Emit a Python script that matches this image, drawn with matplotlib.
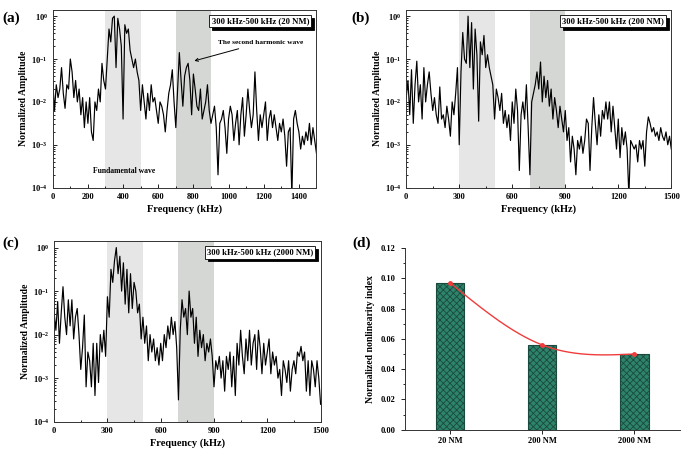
import numpy as np
import matplotlib
matplotlib.use("Agg")
import matplotlib.pyplot as plt
from matplotlib.lines import Line2D

plt.rcParams['font.family'] = ['Liberation Serif', 'DejaVu Serif']
plt.rcParams['font.weight'] = 'bold'
plt.rcParams['axes.labelweight'] = 'bold'
plt.rcParams['hatch.linewidth'] = 0.6

# frecuencias (kHz), paso de 10 kHz
freq = np.arange(0, 1501, 10)

# log10 de la amplitud normalizada
amp_20 = [
    -1.5, -2.2, -1.6, -1.9, -1.7, -1.2, -1.8, -2.15, -1.6, -1.7,
    -1.0, -1.3, -1.9, -1.5, -2.0, -1.7, -2.3, -1.9, -2.6, -2.0,
    -2.5, -1.9, -2.7, -2.9, -2.0, -2.2, -1.7, -2.0, -1.1, -1.5,
    -1.7, -1.0, -0.3, -0.6, -0.05, 0.0, -1.2, -0.05, -0.3, -0.7,
    -2.4, -0.2, -0.4, -0.3, -0.8, -1.0, -1.2, -1.0, -1.3, -1.5,
    -2.2, -1.6, -2.0, -2.4, -1.8, -2.2, -1.6, -2.0, -1.9, -2.2,
    -2.5, -2.0, -2.1, -2.3, -2.7, -2.2, -1.8, -1.6, -1.25, -2.0,
    -2.6, -1.7, -0.85, -1.5, -2.1, -1.4, -1.2, -1.1, -1.5, -2.3,
    -1.35, -1.7, -2.1, -2.2, -1.7, -2.4, -2.2, -2.0, -1.6, -2.2,
    -2.5, -2.3, -2.1, -2.6, -3.7, -2.5, -2.4, -2.2, -2.6, -3.2,
    -2.4, -2.1, -2.3, -2.9, -2.5, -2.2, -3.0, -2.3, -1.9, -2.8,
    -2.3, -1.7, -2.2, -2.6, -2.3, -1.3, -2.2, -2.9, -2.3, -2.6,
    -2.3, -2.0, -2.9, -2.4, -2.2, -2.6, -2.3, -2.6, -2.9, -2.5,
    -2.7, -2.4, -2.8, -3.5, -2.7, -2.6, -4.2, -2.4, -2.2, -2.5,
    -2.7, -3.1, -2.8, -3.0, -2.7, -2.9, -2.5, -3.0, -2.6, -2.9,
    -3.2]

amp_200 = [
    -1.9, -1.5, -2.3, -1.25, -2.5, -1.6, -1.05, -2.0, -1.6, -2.4,
    -1.2, -2.0, -1.6, -1.3, -1.8, -2.2, -1.9, -2.3, -2.5, -1.65,
    -2.4, -2.3, -2.6, -2.1, -2.4, -2.8, -2.0, -2.3, -1.8, -1.2,
    -3.0, -1.3, -0.38, -1.0, -1.1, 0.0, -1.2, -0.15, -1.7, -0.3,
    -0.9, -2.45, -0.6, -0.9, -0.45, -1.2, -0.9, -1.2, -1.4, -1.6,
    -2.4, -1.7, -1.9, -2.2, -1.8, -2.5, -2.2, -2.6, -2.3, -2.9,
    -2.0, -2.5, -1.7, -2.2, -3.6, -2.3, -2.0, -2.4, -1.6, -2.6,
    -3.7, -2.0, -1.8, -1.6, -1.3, -1.7, -1.07, -2.0, -1.4, -1.9,
    -1.5, -2.1, -1.7, -2.4, -1.9, -2.2, -2.6, -2.1, -2.4, -2.7,
    -2.2, -2.9, -2.6, -3.4, -2.8, -3.1, -3.7, -2.9, -3.1, -2.8,
    -3.2, -2.9, -2.4, -2.5, -3.6, -2.6, -1.9, -2.5, -3.0, -2.3,
    -2.8, -2.2, -2.4, -2.0, -2.4, -2.0, -2.7, -2.1, -2.6, -3.1,
    -2.4, -3.3, -2.6, -3.0, -2.7, -3.1, -4.2, -2.9, -3.0, -3.1,
    -3.0, -3.4, -2.9, -3.1, -2.9, -3.5, -2.7, -2.35, -2.5, -2.7,
    -2.6, -2.8, -2.7, -2.9, -2.6, -2.8, -2.9, -2.7, -3.0, -2.8,
    -3.1]

amp_2000 = [
    -1.5, -1.9, -1.24, -2.2, -1.5, -0.9, -1.6, -2.0, -1.2, -1.8,
    -1.2, -2.1, -1.6, -1.4, -2.0, -2.8, -2.3, -1.55, -3.2, -2.4,
    -2.6, -3.2, -2.2, -3.4, -2.2, -3.1, -2.0, -2.4, -1.9, -2.5,
    -1.13, -1.6, -0.5, -0.8, -0.3, 0.0, -0.6, -0.2, -1.0, -0.35,
    -1.3, -0.5, -1.5, -0.6, -1.4, -0.8, -1.0, -1.5, -1.3, -2.1,
    -1.6, -2.2, -1.8, -2.6, -2.0, -2.4, -2.1, -2.6, -2.3, -2.7,
    -2.2, -2.6, -2.0, -2.3, -1.8, -2.1, -1.6, -2.0, -1.7, -2.3,
    -3.5, -1.9, -1.2, -1.6, -1.4, -2.0, -1.0, -1.6, -1.4, -2.2,
    -1.6, -2.5, -1.9, -2.3, -2.0, -2.6, -2.2, -2.4, -2.1, -2.5,
    -3.2, -2.6, -2.8, -2.5, -3.0, -2.6, -3.3, -2.5, -2.8, -2.4,
    -3.2, -2.5, -3.4, -2.2, -2.7, -1.9, -2.5, -2.9, -2.1, -2.6,
    -1.9, -2.7, -2.2, -2.0, -2.8, -1.9, -2.3, -2.9, -2.2, -2.7,
    -2.4, -2.1, -2.9, -2.4, -2.7, -2.5, -3.0, -2.8, -3.4, -2.6,
    -2.8, -3.1, -2.6, -3.3, -2.8, -2.6, -2.9, -2.4, -2.5, -2.27,
    -2.6, -2.4, -3.3, -2.6, -3.4, -2.6, -2.8, -3.2, -2.6, -3.0,
    -3.6]

# panel (d)
muestras = ['20 NM', '200 NM', '2000 NM']
indice = [0.097, 0.056, 0.050]

band1 = (300, 500)
band2 = (700, 900)


def spline_natural(x, y, xs):
    # spline cubico natural para la curva roja
    x = np.asarray(x, float)
    y = np.asarray(y, float)
    n = len(x)
    h = np.diff(x)
    A = np.zeros((n, n))
    r = np.zeros(n)
    A[0, 0] = A[-1, -1] = 1
    for i in range(1, n - 1):
        A[i, i - 1] = h[i - 1]
        A[i, i] = 2 * (h[i - 1] + h[i])
        A[i, i + 1] = h[i]
        r[i] = 6 * ((y[i + 1] - y[i]) / h[i] - (y[i] - y[i - 1]) / h[i - 1])
    M = np.linalg.solve(A, r)
    out = np.zeros_like(xs)
    for k, xv in enumerate(xs):
        i = min(np.searchsorted(x, xv) - 1, n - 2)
        i = max(i, 0)
        t1 = x[i + 1] - xv
        t0 = xv - x[i]
        out[k] = (M[i] * t1**3 + M[i + 1] * t0**3) / (6 * h[i]) \
            + (y[i] / h[i] - M[i] * h[i] / 6) * t1 \
            + (y[i + 1] / h[i] - M[i + 1] * h[i] / 6) * t0
    return out


def espectro(ax, logamp, etiqueta, xticks):
    ax.axvspan(*band1, color='#e6e6e6', lw=0, zorder=0)
    ax.axvspan(*band2, color='#d5d7d5', lw=0, zorder=0)
    ax.plot(freq, 10 ** np.array(logamp), color='black', lw=0.85, zorder=2)
    ax.set_yscale('log')
    ax.set_ylim(1e-4, 1.4)
    ax.set_xlim(0, 1500)
    ax.set_xticks(xticks)
    ax.set_xticks([(a + b) / 2 for a, b in zip(xticks[:-1], xticks[1:])], minor=True)
    ax.tick_params(which='both', direction='in', labelsize=6, width=0.6)
    ax.tick_params(which='major', length=3)
    ax.tick_params(which='minor', length=1.5)
    ax.set_xlabel('Frequency (kHz)', fontsize=7.5, labelpad=3)
    ax.set_ylabel('Normalized Amplitude', fontsize=7, labelpad=2)
    for s in ax.spines.values():
        s.set_linewidth(0.7)
        s.set_color('#333333')
    h = [Line2D([], [], linestyle='none')]
    leg = ax.legend(h, [etiqueta], loc='upper right', handlelength=0, handletextpad=0,
                    fancybox=False, framealpha=1, edgecolor='black',
                    shadow={'color': 'black', 'alpha': 1},
                    prop={'size': 6.2, 'weight': 'bold'}, borderpad=0.25,
                    borderaxespad=0.6)
    leg.get_frame().set_linewidth(0.6)


fig = plt.figure(figsize=(6.85, 4.5), dpi=100)

ax_a = fig.add_axes([0.077, 0.583, 0.385, 0.395])
espectro(ax_a, amp_20, '300 kHz-500 kHz (20 NM)', [0, 200, 400, 600, 800, 1000, 1200, 1400])
ax_a.set_xticks([100, 300, 500, 700, 900, 1100, 1300, 1500], minor=True)
ax_a.annotate('The second harmonic wave', xy=(790, 10 ** -1.06), xytext=(940, 10 ** -0.62),
              fontsize=5.3, fontweight='bold', va='center', ha='left',
              arrowprops=dict(arrowstyle='->', color='black', lw=0.7))
ax_a.text(406, 10 ** -3.6, 'Fundamental wave', fontsize=5.5, fontweight='bold', ha='center', va='center')

ax_b = fig.add_axes([0.593, 0.583, 0.387, 0.395])
espectro(ax_b, amp_200, '300 kHz-500 kHz (200 NM)', [0, 300, 600, 900, 1200, 1500])

ax_c = fig.add_axes([0.079, 0.063, 0.389, 0.401])
espectro(ax_c, amp_2000, '300 kHz-500 kHz (2000 NM)', [0, 300, 600, 900, 1200, 1500])

ax_d = fig.add_axes([0.591, 0.045, 0.401, 0.404])
pos = np.arange(len(muestras))
ax_d.bar(pos, indice, width=0.31, color='#2e846b', edgecolor='#1a4a3d', hatch='xxxxx',
         linewidth=0.8, zorder=2)
xs = np.linspace(pos[0], pos[-1], 200)
ax_d.plot(xs, spline_natural(pos, indice, xs), color='#f03c3c', lw=1.0, zorder=3)
ax_d.plot(pos, indice, 'o', color='#f03c3c', ms=2.5, zorder=4)
ax_d.set_xlim(-0.49, 2.49)
ax_d.set_ylim(0, 0.12)
ax_d.set_xticks(pos)
ax_d.set_xticklabels(muestras)
ax_d.set_yticks(np.arange(0, 0.121, 0.02))
ax_d.yaxis.set_major_formatter(matplotlib.ticker.FormatStrFormatter('%.2f'))
ax_d.set_yticks(np.arange(0.01, 0.12, 0.02), minor=True)
ax_d.tick_params(which='both', labelsize=6, width=0.6)
ax_d.tick_params(which='major', length=3)
ax_d.tick_params(which='minor', length=1.5)
ax_d.tick_params(axis='x', pad=2)
ax_d.spines['top'].set_visible(False)
ax_d.spines['right'].set_visible(False)
for s in ['left', 'bottom']:
    ax_d.spines[s].set_linewidth(0.7)
    ax_d.spines[s].set_color('#333333')
ax_d.set_ylabel('Normalized nonlinearity index', fontsize=7, labelpad=4)

for lbl, x, y in [('(a)', 0.004, 0.975), ('(b)', 0.513, 0.975), ('(c)', 0.004, 0.475), ('(d)', 0.515, 0.475)]:
    fig.text(x, y, lbl, fontsize=11, fontweight='bold', va='top', ha='left')

fig.savefig('out.png', dpi=100)
